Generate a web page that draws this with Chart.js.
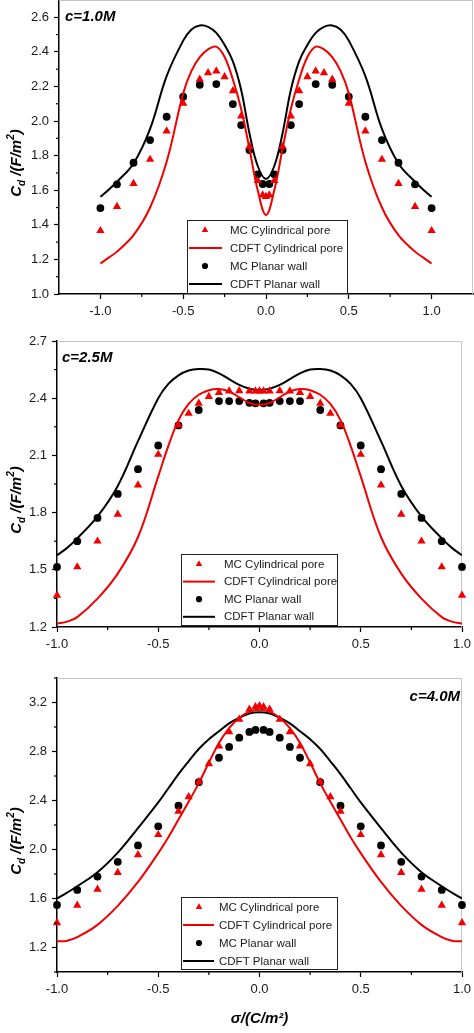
<!DOCTYPE html>
<html>
<head>
<meta charset="utf-8">
<title>Cd vs sigma</title>
<script src="https://cdn.jsdelivr.net/npm/chart.js@4.4.0/dist/chart.umd.min.js"></script>
<style>
  html, body { margin: 0; padding: 0; background: #fff; }
  body { width: 474px; height: 1033px; position: relative; overflow: hidden; }
  .panel { position: absolute; left: 0; width: 474px; }
  #panel1 { top: 0; height: 330px; }
  #panel2 { top: 330px; height: 340px; }
  #panel3 { top: 670px; height: 363px; }
</style>
</head>
<body>
<div class="panel" id="panel1"><canvas id="chart1"></canvas></div>
<div class="panel" id="panel2"><canvas id="chart2"></canvas></div>
<div class="panel" id="panel3"><canvas id="chart3"></canvas></div>
<script>
'use strict';

// Series names (legend order)
const seriesLabels = ['MC Cylindrical pore', 'CDFT Cylindrical pore', 'MC Planar wall', 'CDFT Planar wall'];
const panelLabels = ['c=1.0M', 'c=2.5M', 'c=4.0M'];
const xTitle = 'σ/(C/m²)';

// sigma values (C/m2) of the simulation points and of the CDFT curves
const sigmaMcCyl = [-1, -0.9, -0.8, -0.7, -0.6, -0.5, -0.4, -0.35, -0.3, -0.25, -0.2, -0.15, -0.1, -0.05, -0.02, 0,
  0.02, 0.05, 0.1, 0.15, 0.2, 0.25, 0.3, 0.35, 0.4, 0.5, 0.6, 0.7, 0.8, 0.9, 1];
const sigmaMcPlanar = [-1, -0.9, -0.8, -0.7, -0.6, -0.5, -0.4, -0.3, -0.2, -0.15, -0.1, -0.05, -0.02,
  0.02, 0.05, 0.1, 0.15, 0.2, 0.3, 0.4, 0.5, 0.6, 0.7, 0.8, 0.9, 1];
const sigmaCdft = [-1, -0.95, -0.9, -0.8, -0.7, -0.6, -0.5, -0.45, -0.4, -0.35, -0.3, -0.25, -0.2, -0.15, -0.1, -0.05, 0,
  0.05, 0.1, 0.15, 0.2, 0.25, 0.3, 0.35, 0.4, 0.45, 0.5, 0.6, 0.7, 0.8, 0.9, 0.95, 1];

// c = 1.0M
const mcCyl1 = [1.366, 1.505, 1.638, 1.778, 1.942, 2.102, 2.241, 2.279, 2.289, 2.256, 2.175, 2.029, 1.852, 1.655, 1.572, 1.563,
  1.572, 1.655, 1.852, 2.029, 2.175, 2.256, 2.289, 2.279, 2.241, 2.102, 1.942, 1.778, 1.638, 1.505, 1.366];
const mcPlanar1 = [1.497, 1.634, 1.759, 1.890, 2.025, 2.141, 2.210, 2.214, 2.098, 1.977, 1.832, 1.692, 1.636,
  1.636, 1.692, 1.832, 1.977, 2.098, 2.214, 2.210, 2.141, 2.025, 1.890, 1.759, 1.634, 1.497];
const cdftCyl1 = [1.177, 1.21, 1.245, 1.34, 1.50, 1.765, 2.16, 2.29, 2.37, 2.415, 2.43, 2.37, 2.24, 2.07, 1.84, 1.60, 1.457,
  1.60, 1.84, 2.07, 2.24, 2.37, 2.43, 2.415, 2.37, 2.29, 2.16, 1.765, 1.50, 1.34, 1.245, 1.21, 1.177];
const cdftPlanar1 = [1.562, 1.603, 1.649, 1.755, 1.955, 2.26, 2.465, 2.53, 2.553, 2.545, 2.51, 2.44, 2.345, 2.18, 1.93, 1.74, 1.665,
  1.74, 1.93, 2.18, 2.345, 2.44, 2.51, 2.545, 2.553, 2.53, 2.465, 2.26, 1.955, 1.755, 1.649, 1.603, 1.562];

// c = 2.5M
const mcCyl2 = [1.366, 1.515, 1.650, 1.791, 1.944, 2.105, 2.259, 2.320, 2.373, 2.408, 2.429, 2.437, 2.439, 2.437, 2.437, 2.437,
  2.437, 2.437, 2.439, 2.437, 2.429, 2.408, 2.373, 2.320, 2.259, 2.105, 1.944, 1.791, 1.650, 1.515, 1.366];
const mcPlanar2 = [1.515, 1.650, 1.772, 1.898, 2.028, 2.152, 2.257, 2.338, 2.385, 2.385, 2.385, 2.376, 2.373,
  2.373, 2.376, 2.385, 2.385, 2.385, 2.338, 2.257, 2.152, 2.028, 1.898, 1.772, 1.650, 1.515];
const cdftCyl2 = [1.217, 1.228, 1.252, 1.349, 1.48, 1.672, 1.99, 2.15, 2.285, 2.37, 2.418, 2.442, 2.448, 2.435, 2.405, 2.375, 2.365,
  2.375, 2.405, 2.435, 2.448, 2.442, 2.418, 2.37, 2.285, 2.15, 1.99, 1.672, 1.48, 1.349, 1.252, 1.228, 1.217];
const cdftPlanar2 = [1.576, 1.615, 1.665, 1.78, 1.94, 2.175, 2.40, 2.475, 2.52, 2.545, 2.553, 2.55, 2.53, 2.50, 2.47, 2.45, 2.443,
  2.45, 2.47, 2.50, 2.53, 2.55, 2.553, 2.545, 2.52, 2.475, 2.40, 2.175, 1.94, 1.78, 1.665, 1.615, 1.576];

// c = 4.0M
const mcCyl3 = [1.402, 1.544, 1.675, 1.812, 1.957, 2.121, 2.312, 2.430, 2.552, 2.700, 2.845, 2.960, 3.063, 3.145, 3.164, 3.173,
  3.164, 3.145, 3.063, 2.960, 2.845, 2.700, 2.552, 2.430, 2.312, 2.121, 1.957, 1.812, 1.675, 1.544, 1.402];
const mcPlanar3 = [1.547, 1.670, 1.779, 1.899, 2.033, 2.189, 2.358, 2.550, 2.749, 2.837, 2.913, 2.960, 2.976,
  2.976, 2.960, 2.913, 2.837, 2.749, 2.550, 2.358, 2.189, 2.033, 1.899, 1.779, 1.670, 1.547];
const cdftCyl3 = [1.25, 1.255, 1.285, 1.385, 1.54, 1.735, 1.97, 2.10, 2.245, 2.39, 2.54, 2.71, 2.87, 2.99, 3.075, 3.125, 3.14,
  3.125, 3.075, 2.99, 2.87, 2.71, 2.54, 2.39, 2.245, 2.10, 1.97, 1.735, 1.54, 1.385, 1.285, 1.255, 1.25];
const cdftPlanar3 = [1.60, 1.648, 1.70, 1.815, 1.975, 2.175, 2.385, 2.50, 2.615, 2.72, 2.82, 2.90, 2.965, 3.03, 3.075, 3.11, 3.12,
  3.11, 3.075, 3.03, 2.965, 2.90, 2.82, 2.72, 2.615, 2.50, 2.385, 2.175, 1.975, 1.815, 1.70, 1.648, 1.60];

// Tick values
const xTicks = [-1, -0.5, 0, 0.5, 1];
const xMinor = [-0.75, -0.25, 0.25, 0.75];
const yTicks1 = [1.0, 1.2, 1.4, 1.6, 1.8, 2.0, 2.2, 2.4, 2.6];
const yMinor1 = [1.1, 1.3, 1.5, 1.7, 1.9, 2.1, 2.3, 2.5];
const yTicks2 = [1.2, 1.5, 1.8, 2.1, 2.4, 2.7];
const yMinor2 = [1.35, 1.65, 1.95, 2.25, 2.55];
const yTicks3 = [1.2, 1.6, 2.0, 2.4, 2.8, 3.2];
const yMinor3 = [1.0, 1.4, 1.8, 2.2, 2.6, 3.0, 3.4];

const RED = '#f00000';
const BLACK = '#000000';
const FONT = '"Liberation Sans", Arial, sans-serif';

Chart.defaults.font.family = FONT;
Chart.defaults.color = '#1a1a1a';

function toPoints(xs, ys) {
  return xs.map((x, i) => ({ x: x, y: ys[i] }));
}

function buildDatasets(mcCyl, cdftCyl, mcPlanar, cdftPlanar) {
  return [
    {
      label: seriesLabels[0], data: toPoints(sigmaMcCyl, mcCyl), clip: false,
      pointStyle: 'triangle', pointRadius: 4.8, backgroundColor: RED, borderColor: RED, borderWidth: 0
    },
    {
      label: seriesLabels[1], data: toPoints(sigmaCdft, cdftCyl), showLine: true,
      pointRadius: 0, borderColor: RED, borderWidth: 2, tension: 0.4, cubicInterpolationMode: 'default'
    },
    {
      label: seriesLabels[2], data: toPoints(sigmaMcPlanar, mcPlanar), clip: false,
      pointStyle: 'circle', pointRadius: 3.9, backgroundColor: BLACK, borderColor: BLACK, borderWidth: 0
    },
    {
      label: seriesLabels[3], data: toPoints(sigmaCdft, cdftPlanar), showLine: true,
      pointRadius: 0, borderColor: BLACK, borderWidth: 2, tension: 0.4, cubicInterpolationMode: 'default'
    }
  ];
}

function line(ctx, x1, y1, x2, y2) {
  ctx.beginPath();
  ctx.moveTo(x1, y1);
  ctx.lineTo(x2, y2);
  ctx.stroke();
}

// C_d /(F/m^2) with a real subscript and superscript
function drawYTitle(ctx, cx, cy) {
  const big = 'italic bold 15px ' + FONT;
  const small = 'italic bold 10px ' + FONT;
  const parts = [['C', big, 0], ['d', small, 4], [' /(F/m', big, 0], ['2', small, -7], [')', big, 0]];
  ctx.save();
  ctx.translate(cx, cy);
  ctx.rotate(-Math.PI / 2);
  ctx.fillStyle = '#000';
  ctx.textBaseline = 'alphabetic';
  ctx.textAlign = 'left';
  let total = 0;
  parts.forEach(p => { ctx.font = p[1]; total += ctx.measureText(p[0]).width; });
  let x = -total / 2;
  parts.forEach(p => {
    ctx.font = p[1];
    ctx.fillText(p[0], x, p[2]);
    x += ctx.measureText(p[0]).width;
  });
  ctx.restore();
}

function drawLegend(chart, ctx, lg) {
  ctx.save();
  ctx.fillStyle = '#fff';
  ctx.fillRect(lg.left, lg.top, lg.width, lg.height);
  ctx.strokeStyle = '#222';
  ctx.lineWidth = 1;
  ctx.strokeRect(lg.left + 0.5, lg.top + 0.5, lg.width, lg.height);
  ctx.font = '11.5px ' + FONT;
  ctx.textBaseline = 'middle';
  ctx.textAlign = 'left';
  chart.data.datasets.forEach((ds, i) => {
    const y = lg.firstRow + i * lg.rowH;
    if (ds.showLine) {
      ctx.strokeStyle = ds.borderColor;
      ctx.lineWidth = 2;
      line(ctx, lg.lineFrom, y, lg.lineTo, y);
    } else {
      ctx.fillStyle = ds.backgroundColor;
      ctx.beginPath();
      if (ds.pointStyle === 'triangle') {
        const r = 3.8;
        ctx.moveTo(lg.markX, y - r);
        ctx.lineTo(lg.markX + r * 0.866, y + r * 0.5);
        ctx.lineTo(lg.markX - r * 0.866, y + r * 0.5);
        ctx.closePath();
      } else {
        ctx.arc(lg.markX, y, 3.1, 0, Math.PI * 2);
      }
      ctx.fill();
    }
    ctx.fillStyle = '#1a1a1a';
    ctx.fillText(ds.label, lg.textX, y + 0.5);
  });
  ctx.restore();
}

const decorPlugin = {
  id: 'decor',
  beforeDatasetsDraw(chart) {
    const a = chart.chartArea;
    const ctx = chart.ctx;
    ctx.save();
    ctx.strokeStyle = '#c4c4c4';
    ctx.lineWidth = 1;
    ctx.beginPath();
    ctx.moveTo(a.left, a.top + 0.5);
    ctx.lineTo(a.right - 0.5, a.top + 0.5);
    ctx.lineTo(a.right - 0.5, a.bottom);
    ctx.stroke();
    ctx.restore();
  },
  afterDraw(chart, args, opts) {
    const a = chart.chartArea;
    const ctx = chart.ctx;
    const xs = chart.scales.x;
    const ys = chart.scales.y;

    // minor ticks
    ctx.save();
    ctx.strokeStyle = '#000';
    ctx.lineWidth = 1.2;
    opts.xMinor.forEach(v => {
      const p = xs.getPixelForValue(v);
      line(ctx, p, a.bottom, p, a.bottom + 3);
    });
    opts.yMinor.forEach(v => {
      const p = ys.getPixelForValue(v);
      if (p >= a.top - 0.5 && p <= a.bottom + 0.5) line(ctx, a.left - 3, p, a.left, p);
    });
    ctx.restore();

    drawYTitle(ctx, 21, (a.top + a.bottom) / 2 + 16);

    // panel label
    ctx.save();
    ctx.font = 'italic bold 15px ' + FONT;
    ctx.fillStyle = '#000';
    ctx.textBaseline = 'alphabetic';
    ctx.textAlign = opts.labelAlign;
    ctx.fillText(opts.label, opts.labelX, opts.labelY);
    ctx.restore();

    drawLegend(chart, ctx, opts.legend);
  }
};

function makeChart(id, cfg) {
  const xScale = {
    type: 'linear',
    min: cfg.xMin,
    max: cfg.xMax,
    border: { color: '#000', width: 1.5 },
    grid: { drawOnChartArea: false, drawTicks: true, tickLength: 5, color: '#000', tickColor: '#000', tickWidth: 1.2 },
    ticks: { autoSkip: false, maxRotation: 0, padding: 5, font: { size: 13 }, color: '#1a1a1a',
      callback: v => Number(v).toFixed(1) },
    afterBuildTicks: s => { s.ticks = xTicks.map(v => ({ value: v })); },
    afterFit: s => { s.height = cfg.xHeight; s.paddingLeft = 0; s.paddingRight = 0; },
    title: cfg.xTitle ? {
      display: true, text: cfg.xTitle, color: '#000',
      font: { size: 15, weight: 'bold', style: 'italic' }, padding: { top: 0, bottom: 5 }
    } : { display: false }
  };
  const yScale = {
    type: 'linear',
    min: cfg.yMin,
    max: cfg.yMax,
    border: { color: '#000', width: 1.5 },
    grid: { drawOnChartArea: false, drawTicks: true, tickLength: 5, color: '#000', tickColor: '#000', tickWidth: 1.2 },
    ticks: { autoSkip: false, padding: 5, font: { size: 13 }, color: '#1a1a1a',
      callback: v => Number(v).toFixed(1) },
    afterBuildTicks: s => { s.ticks = cfg.yTicks.map(v => ({ value: v })); },
    afterFit: s => { s.width = cfg.yWidth; s.paddingTop = 0; s.paddingBottom = 0; }
  };
  return new Chart(document.getElementById(id), {
    type: 'scatter',
    data: { datasets: buildDatasets(cfg.mcCyl, cfg.cdftCyl, cfg.mcPlanar, cfg.cdftPlanar) },
    options: {
      responsive: true,
      maintainAspectRatio: false,
      animation: false,
      events: [],
      layout: { padding: cfg.padding, autoPadding: false },
      scales: { x: xScale, y: yScale },
      plugins: {
        legend: { display: false },
        tooltip: { enabled: false },
        decor: {
          xMinor: xMinor,
          yMinor: cfg.yMinor,
          label: cfg.label,
          labelX: cfg.labelX,
          labelY: cfg.labelY,
          labelAlign: cfg.labelAlign,
          legend: cfg.legend
        }
      }
    },
    plugins: [decorPlugin]
  });
}

makeChart('chart1', {
  mcCyl: mcCyl1, cdftCyl: cdftCyl1, mcPlanar: mcPlanar1, cdftPlanar: cdftPlanar1,
  xMin: -1.25, xMax: 1.25, yMin: 1.0, yMax: 2.7,
  yTicks: yTicks1, yMinor: yMinor1,
  yWidth: 59, xHeight: 36, padding: { top: 0, right: 1, bottom: 0, left: 0 },
  label: panelLabels[0], labelX: 65, labelY: 21, labelAlign: 'left',
  legend: { left: 187, top: 220, width: 160, height: 73, firstRow: 230, rowH: 18,
    markX: 205, lineFrom: 189, lineTo: 222, textX: 230 }
});

makeChart('chart2', {
  mcCyl: mcCyl2, cdftCyl: cdftCyl2, mcPlanar: mcPlanar2, cdftPlanar: cdftPlanar2,
  xMin: -1, xMax: 1, yMin: 1.2, yMax: 2.7,
  yTicks: yTicks2, yMinor: yMinor2,
  yWidth: 57, xHeight: 43, padding: { top: 11, right: 12, bottom: 0, left: 0 },
  label: panelLabels[1], labelX: 62, labelY: 32, labelAlign: 'left',
  legend: { left: 181, top: 224, width: 156, height: 71, firstRow: 234, rowH: 17.6,
    markX: 199, lineFrom: 183, lineTo: 215, textX: 224 }
});

makeChart('chart3', {
  mcCyl: mcCyl3, cdftCyl: cdftCyl3, mcPlanar: mcPlanar3, cdftPlanar: cdftPlanar3,
  xMin: -1, xMax: 1, yMin: 1.0, yMax: 3.4,
  yTicks: yTicks3, yMinor: yMinor3,
  yWidth: 57, xHeight: 61, padding: { top: 8, right: 12, bottom: 0, left: 0 },
  xTitle: xTitle,
  label: panelLabels[2], labelX: 460, labelY: 31, labelAlign: 'right',
  legend: { left: 181, top: 227, width: 156, height: 72, firstRow: 237, rowH: 18,
    markX: 199, lineFrom: 183, lineTo: 214, textX: 219 }
});
</script>
</body>
</html>
